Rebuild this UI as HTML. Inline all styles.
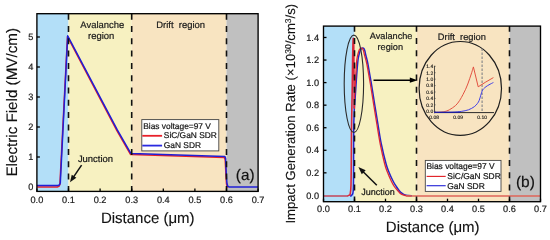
<!DOCTYPE html>
<html><head><meta charset="utf-8"><style>
html,body{margin:0;padding:0;background:#fff;}
svg{display:block;filter:blur(0.3px);font-family:"Liberation Sans", sans-serif;text-rendering:geometricPrecision;}
text.b{stroke:#1a1a1a;stroke-width:0.2px;paint-order:stroke;}
text.m{stroke:#111;stroke-width:0.12px;paint-order:stroke;}
</style></head><body>
<svg width="550" height="240" viewBox="0 0 550 240">
<rect x="36.9" y="13.7" width="31.6" height="177.70000000000002" fill="#B3DFF8"/>
<rect x="68.5" y="13.7" width="63.19999999999999" height="177.70000000000002" fill="#F7F1C1"/>
<rect x="131.7" y="13.7" width="94.80000000000001" height="177.70000000000002" fill="#F8E4C1"/>
<rect x="226.5" y="13.7" width="31.599999999999966" height="177.70000000000002" fill="#C0C0C0"/>
<path d="M36.9,187 L57.3,187 L58.9,186.4 L59.9,184.5 L67.5,36.6 L116.9,130.6 L130.5,154.4 L131.8,154.6 L224.4,157.6 L225.2,159.6 L225.5,166 L226,176 L226.5,184 L227.3,186.8 L228.3,187.2" fill="none" stroke="#E8202A" stroke-width="1.5" stroke-linejoin="round"/>
<path d="M36.9,185.5 L57.8,185.5 L59.4,184.9 L60.3,183 L67.7,35.8 L117.3,129.9 L130.8,153.3 L132,153.4 L224.8,156.4 L225.6,158.4 L225.9,165 L226.4,176 L226.9,183 L227.7,186.2 L229,186.9 L258.1,186.9" fill="none" stroke="#1F1FD6" stroke-width="1.5" stroke-linejoin="round"/>
<line x1="68.5" y1="13.7" x2="68.5" y2="191.4" stroke="#111" stroke-width="1.6" stroke-dasharray="6 6.3" stroke-dashoffset="0"/>
<line x1="131.7" y1="13.7" x2="131.7" y2="191.4" stroke="#111" stroke-width="1.6" stroke-dasharray="6 6.3" stroke-dashoffset="0"/>
<line x1="226.5" y1="13.7" x2="226.5" y2="191.4" stroke="#111" stroke-width="1.6" stroke-dasharray="6 6.3" stroke-dashoffset="0"/>
<text x="102.3" y="28" font-size="9.45" text-anchor="middle" fill="#1a1a1a" class="b">Avalanche</text>
<text x="101.2" y="39" font-size="9.45" text-anchor="middle" fill="#1a1a1a" class="b">region</text>
<text x="180.6" y="28.2" font-size="9.45" text-anchor="middle" fill="#1a1a1a" class="b" xml:space="preserve">Drift  region</text>
<text class="b" x="77.9" y="162.0" font-size="9.45" fill="#111">Junction</text>
<line x1="81.6" y1="165.2" x2="73.25" y2="177.44" stroke="#111" stroke-width="1.5"/><polygon points="70,182.2 71.75,174.67 76.37,177.83" fill="#111"/>
<text x="235.8" y="179.7" font-size="15.3" fill="#111" class="b">(a)</text>
<rect x="141.8" y="119.6" width="77" height="31.3" fill="#fff" stroke="#444" stroke-width="0.9"/>
<text x="143.2" y="128.7" font-size="8.4" fill="#111" class="b">Bias voltage=97 V</text>
<line x1="142.3" y1="135.8" x2="162.1" y2="135.8" stroke="#E8202A" stroke-width="1.8"/>
<text x="163.8" y="138.1" font-size="8.4" fill="#111" class="b">SiC/GaN SDR</text>
<line x1="142.3" y1="145.6" x2="162.1" y2="145.6" stroke="#2A2AE0" stroke-width="1.8"/>
<text x="163.8" y="147.9" font-size="8.4" fill="#111" class="b">GaN SDR</text>
<rect x="36.9" y="13.7" width="221.20000000000002" height="177.70000000000002" fill="none" stroke="#000" stroke-width="1.35"/>
<line x1="36.9" y1="191.4" x2="36.9" y2="188.4" stroke="#000" stroke-width="1.3"/>
<text x="36.9" y="202.7" font-size="9.2" text-anchor="middle" fill="#1a1a1a" class="b">0.0</text>
<line x1="68.5" y1="191.4" x2="68.5" y2="188.4" stroke="#000" stroke-width="1.3"/>
<text x="68.5" y="202.7" font-size="9.2" text-anchor="middle" fill="#1a1a1a" class="b">0.1</text>
<line x1="100.1" y1="191.4" x2="100.1" y2="188.4" stroke="#000" stroke-width="1.3"/>
<text x="100.1" y="202.7" font-size="9.2" text-anchor="middle" fill="#1a1a1a" class="b">0.2</text>
<line x1="131.7" y1="191.4" x2="131.7" y2="188.4" stroke="#000" stroke-width="1.3"/>
<text x="131.7" y="202.7" font-size="9.2" text-anchor="middle" fill="#1a1a1a" class="b">0.3</text>
<line x1="163.3" y1="191.4" x2="163.3" y2="188.4" stroke="#000" stroke-width="1.3"/>
<text x="163.3" y="202.7" font-size="9.2" text-anchor="middle" fill="#1a1a1a" class="b">0.4</text>
<line x1="194.9" y1="191.4" x2="194.9" y2="188.4" stroke="#000" stroke-width="1.3"/>
<text x="194.9" y="202.7" font-size="9.2" text-anchor="middle" fill="#1a1a1a" class="b">0.5</text>
<line x1="226.5" y1="191.4" x2="226.5" y2="188.4" stroke="#000" stroke-width="1.3"/>
<text x="226.5" y="202.7" font-size="9.2" text-anchor="middle" fill="#1a1a1a" class="b">0.6</text>
<line x1="258.1" y1="191.4" x2="258.1" y2="188.4" stroke="#000" stroke-width="1.3"/>
<text x="258.1" y="202.7" font-size="9.2" text-anchor="middle" fill="#1a1a1a" class="b">0.7</text>
<text x="33.3" y="190.2" font-size="9.2" text-anchor="end" fill="#1a1a1a" class="b">0</text>
<line x1="36.9" y1="157" x2="39.9" y2="157" stroke="#000" stroke-width="1.3"/>
<text x="33.3" y="160.2" font-size="9.2" text-anchor="end" fill="#1a1a1a" class="b">1</text>
<line x1="36.9" y1="127" x2="39.9" y2="127" stroke="#000" stroke-width="1.3"/>
<text x="33.3" y="130.2" font-size="9.2" text-anchor="end" fill="#1a1a1a" class="b">2</text>
<line x1="36.9" y1="97" x2="39.9" y2="97" stroke="#000" stroke-width="1.3"/>
<text x="33.3" y="100.2" font-size="9.2" text-anchor="end" fill="#1a1a1a" class="b">3</text>
<line x1="36.9" y1="67" x2="39.9" y2="67" stroke="#000" stroke-width="1.3"/>
<text x="33.3" y="70.2" font-size="9.2" text-anchor="end" fill="#1a1a1a" class="b">4</text>
<line x1="36.9" y1="37" x2="39.9" y2="37" stroke="#000" stroke-width="1.3"/>
<text x="33.3" y="40.2" font-size="9.2" text-anchor="end" fill="#1a1a1a" class="b">5</text>
<text x="147.75" y="223.2" font-size="15.0" text-anchor="middle" fill="#111" class="m">Distance (μm)</text>
<text transform="translate(16.9,102.3) rotate(-90)" x="0" y="0" font-size="15.2" text-anchor="middle" fill="#111" class="m">Electric Field (MV/cm)</text>
<rect x="323.5" y="26.1" width="31.0" height="175.6" fill="#B3DFF8"/>
<rect x="354.5" y="26.1" width="62.0" height="175.6" fill="#F7F1C1"/>
<rect x="416.5" y="26.1" width="93.0" height="175.6" fill="#F8E4C1"/>
<rect x="509.5" y="26.1" width="31.0" height="175.6" fill="#C0C0C0"/>
<path d="M350,196 C350.22,195.93 350.83,196.02 351.3,195.6 C351.77,195.18 352.45,194.77 352.8,193.5 C353.15,192.23 353.27,191.92 353.4,188 C353.53,184.08 353.55,179.67 353.6,170 C353.65,160.33 353.58,140 353.7,130 C353.82,120 354.08,115 354.3,110 C354.52,105 354.77,103.33 355,100 C355.23,96.67 355.42,94.17 355.7,90 C355.98,85.83 356.32,80 356.7,75 C357.08,70 357.58,63.5 358,60 C358.42,56.5 358.82,55.62 359.2,54 C359.58,52.38 359.92,51.22 360.3,50.3 C360.68,49.38 361.08,48.88 361.5,48.5 C361.92,48.12 362.38,47.98 362.8,48 C363.22,48.02 363.65,48.1 364,48.6 C364.35,49.1 364.67,50.18 364.9,51 C365.13,51.82 365.15,52.42 365.4,53.5 C365.65,54.58 365.98,55.75 366.4,57.5 C366.82,59.25 367.07,59.58 367.9,64 C368.73,68.42 370.28,77.33 371.4,84 C372.52,90.67 373.52,97.33 374.6,104 C375.68,110.67 376.78,117.33 377.9,124 C379.02,130.67 379.93,137.33 381.3,144 C382.67,150.67 384.78,159.22 386.1,164 C387.42,168.78 388,169.78 389.2,172.7 C390.4,175.62 392.12,179.2 393.3,181.5 C394.48,183.8 395.37,185.05 396.3,186.5 C397.23,187.95 397.98,189.08 398.9,190.2 C399.82,191.32 400.82,192.42 401.8,193.2 C402.78,193.98 403.68,194.5 404.8,194.9 C405.92,195.3 407.3,195.43 408.5,195.6 C409.7,195.77 411.42,195.85 412,195.9" fill="none" stroke="#2424C8" stroke-width="1.5"/>
<path d="M347.5,195.8 C347.8,195.7 348.83,195.58 349.3,195.2 C349.77,194.82 350.02,195.2 350.3,193.5 C350.58,191.8 350.83,190.58 351,185 C351.17,179.42 351.22,169.17 351.3,160 C351.38,150.83 351.35,141.67 351.5,130 C351.65,118.33 352.02,101.67 352.2,90 C352.38,78.33 352.48,67.5 352.6,60 C352.72,52.5 352.8,48.6 352.9,45 C353,41.4 353.15,39.5 353.2,38.4 L353.7,38.6 L354.3,108.5" fill="none" stroke="#DC2638" stroke-width="1.6" stroke-linejoin="round"/>
<path d="M354.3,108.5 C354.32,107.08 354.3,103.08 354.4,100 C354.5,96.92 354.67,94.17 354.9,90 C355.13,85.83 355.48,80 355.8,75 C356.12,70 356.43,63.5 356.8,60 C357.17,56.5 357.6,55.65 358,54 C358.4,52.35 358.8,51.02 359.2,50.1 C359.6,49.18 360,48.82 360.4,48.5 C360.8,48.18 361.22,48.15 361.6,48.2 C361.98,48.25 362.37,48.33 362.7,48.8 C363.03,49.27 363.35,50.17 363.6,51 C363.85,51.83 363.93,52.72 364.2,53.8 C364.47,54.88 364.76,55.8 365.2,57.5 C365.64,59.2 365.98,59.58 366.85,64 C367.72,68.42 369.27,77.33 370.4,84 C371.52,90.67 372.53,97.33 373.6,104 C374.68,110.67 375.74,117.33 376.85,124 C377.96,130.67 378.94,137.33 380.25,144 C381.56,150.67 383.46,159.22 384.7,164 C385.94,168.78 386.57,169.78 387.7,172.7 C388.83,175.62 390.4,179.2 391.5,181.5 C392.6,183.8 393.32,185.05 394.3,186.5 C395.28,187.95 396.4,189.05 397.4,190.2 C398.4,191.35 399.23,192.58 400.3,193.4 C401.37,194.22 402.6,194.7 403.8,195.1 C405,195.5 406.3,195.65 407.5,195.8 C408.7,195.95 410.42,195.97 411,196" fill="none" stroke="#DC2638" stroke-width="1.3"/>
<path d="M323.5,196.0 L348,196.0" stroke="#C43A4C" stroke-width="1.4" fill="none"/>
<path d="M406,196.0 L540.5,196.0" stroke="#DF6458" stroke-width="1.6" fill="none"/>
<line x1="354.5" y1="26.1" x2="354.5" y2="201.7" stroke="#111" stroke-width="1.6" stroke-dasharray="6 6.2" stroke-dashoffset="0.3"/>
<line x1="416.5" y1="26.1" x2="416.5" y2="201.7" stroke="#111" stroke-width="1.6" stroke-dasharray="6 6.2" stroke-dashoffset="0.3"/>
<line x1="509.5" y1="26.1" x2="509.5" y2="201.7" stroke="#111" stroke-width="1.6" stroke-dasharray="6 6.2" stroke-dashoffset="0.3"/>
<ellipse cx="353.9" cy="83.8" rx="9.7" ry="48.7" fill="none" stroke="#2a2a2a" stroke-width="1.1"/>
<line x1="373.5" y1="80.2" x2="411" y2="80.2" stroke="#000" stroke-width="1.5"/>
<polygon points="417.5,80.2 409.8,77.6 409.8,82.8" fill="#000"/>
<ellipse cx="460.3" cy="88.4" rx="41.2" ry="46.9" fill="#F8E4C1" stroke="#1e1e1e" stroke-width="1.2"/>
<line x1="482.1" y1="48.5" x2="482.1" y2="112.8" stroke="#8a8a8a" stroke-width="1.2" stroke-dasharray="2.6 1.4"/>
<line x1="434.5" y1="65.8" x2="434.5" y2="113.2" stroke="#2a2a2a" stroke-width="0.8"/>
<line x1="434.5" y1="111.3" x2="435.6" y2="111.3" stroke="#2a2a2a" stroke-width="0.6"/>
<line x1="434.5" y1="104.87" x2="435.6" y2="104.87" stroke="#2a2a2a" stroke-width="0.6"/>
<line x1="434.5" y1="98.44" x2="435.6" y2="98.44" stroke="#2a2a2a" stroke-width="0.6"/>
<line x1="434.5" y1="92.01" x2="435.6" y2="92.01" stroke="#2a2a2a" stroke-width="0.6"/>
<line x1="434.5" y1="85.58" x2="435.6" y2="85.58" stroke="#2a2a2a" stroke-width="0.6"/>
<line x1="434.5" y1="79.15" x2="435.6" y2="79.15" stroke="#2a2a2a" stroke-width="0.6"/>
<line x1="434.5" y1="72.72" x2="435.6" y2="72.72" stroke="#2a2a2a" stroke-width="0.6"/>
<line x1="434.5" y1="66.29" x2="435.6" y2="66.29" stroke="#2a2a2a" stroke-width="0.6"/>
<line x1="434" y1="112.6" x2="494.0" y2="112.6" stroke="#2a2a2a" stroke-width="1.0"/>
<text x="433.3" y="113.1" font-size="5.0" text-anchor="end" fill="#111" class="m">0.0</text>
<text x="433.3" y="106.67" font-size="5.0" text-anchor="end" fill="#111" class="m">0.2</text>
<text x="433.3" y="100.24" font-size="5.0" text-anchor="end" fill="#111" class="m">0.4</text>
<text x="433.3" y="93.81" font-size="5.0" text-anchor="end" fill="#111" class="m">0.6</text>
<text x="433.3" y="87.38" font-size="5.0" text-anchor="end" fill="#111" class="m">0.8</text>
<text x="433.3" y="80.95" font-size="5.0" text-anchor="end" fill="#111" class="m">1.0</text>
<text x="433.3" y="74.52" font-size="5.0" text-anchor="end" fill="#111" class="m">1.2</text>
<text x="433.3" y="68.09" font-size="5.0" text-anchor="end" fill="#111" class="m">1.4</text>
<text x="434.1" y="118.8" font-size="5.0" text-anchor="middle" fill="#111" class="m">0.08</text>
<text x="458.1" y="118.8" font-size="5.0" text-anchor="middle" fill="#111" class="m">0.09</text>
<text x="482.1" y="118.8" font-size="5.0" text-anchor="middle" fill="#111" class="m">0.10</text>
<path d="M434.3,112.5 C435.58,112.43 439.97,112.35 442,112.1 C444.03,111.85 445.22,111.42 446.5,111 C447.78,110.58 448.2,110.5 449.7,109.6 C451.2,108.7 453.83,107.13 455.5,105.6 C457.17,104.07 458.45,102.25 459.7,100.4 C460.95,98.55 462.02,96.35 463,94.5 C463.98,92.65 464.8,91.05 465.6,89.3 C466.4,87.55 467.1,85.83 467.8,84 C468.5,82.17 469.13,80.25 469.8,78.3 C470.47,76.35 471.2,74.2 471.8,72.3 C472.4,70.4 473.13,67.8 473.4,66.9 L478.2,86.8 L485.8,82.0 L493.4,77.6" fill="none" stroke="#E04A3A" stroke-width="0.95" stroke-linejoin="round"/>
<path d="M434.3,112.4 C437.25,112.38 447.51,112.47 452,112.3 C456.49,112.13 458.5,111.82 461.25,111.4 C464,110.98 466.32,110.58 468.5,109.8 C470.68,109.02 472.82,107.75 474.3,106.7 C475.78,105.65 476.58,104.55 477.4,103.5 C478.22,102.45 478.63,101.78 479.2,100.4 C479.77,99.02 480.3,96.8 480.8,95.2 C481.3,93.6 481.73,91.87 482.2,90.8 C482.67,89.73 482.97,89.48 483.6,88.8 C484.23,88.12 485.1,87.37 486,86.7 C486.9,86.03 487.77,85.5 489,84.8 C490.23,84.1 492.67,82.88 493.4,82.5" fill="none" stroke="#3838E8" stroke-width="0.95"/>
<line x1="434.3" y1="112.3" x2="460" y2="112.3" stroke="#1a1a9a" stroke-width="1.2"/>
<text x="391.1" y="39.4" font-size="9.2" text-anchor="middle" fill="#1a1a1a" class="b">Avalanche</text>
<text x="390.3" y="50" font-size="9.2" text-anchor="middle" fill="#1a1a1a" class="b">region</text>
<text x="461.9" y="39.7" font-size="9.3" text-anchor="middle" fill="#1a1a1a" class="b" xml:space="preserve">Drift  region</text>
<text class="b" x="361.2" y="194.8" font-size="9.0" fill="#111">Junction</text>
<line x1="376.8" y1="185.2" x2="362.67" y2="171.22" stroke="#111" stroke-width="1.5"/><polygon points="358.4,167 365.7,170.28 361.76,174.26" fill="#111"/>
<text x="515.9" y="187.4" font-size="15.5" fill="#111" class="b">(b)</text>
<rect x="425.3" y="160.4" width="75.7" height="31" fill="#fff" stroke="#444" stroke-width="0.9"/>
<text x="426.4" y="169.4" font-size="8.45" fill="#111" class="b">Bias voltage=97 V</text>
<line x1="426.6" y1="176.4" x2="445.7" y2="176.4" stroke="#E2262C" stroke-width="1.15"/>
<text x="447.3" y="179.1" font-size="8.45" fill="#111" class="b">SiC/GaN SDR</text>
<line x1="426.6" y1="185.7" x2="445.7" y2="185.7" stroke="#2B2BD8" stroke-width="1.15"/>
<text x="447.3" y="189.0" font-size="8.45" fill="#111" class="b">GaN SDR</text>
<rect x="323.5" y="26.1" width="217.0" height="175.6" fill="none" stroke="#000" stroke-width="1.35"/>
<line x1="323.5" y1="201.7" x2="323.5" y2="198.7" stroke="#000" stroke-width="1.3"/>
<text x="323.5" y="212.4" font-size="9.2" text-anchor="middle" fill="#1a1a1a" class="b">0.0</text>
<line x1="354.5" y1="201.7" x2="354.5" y2="198.7" stroke="#000" stroke-width="1.3"/>
<text x="354.5" y="212.4" font-size="9.2" text-anchor="middle" fill="#1a1a1a" class="b">0.1</text>
<line x1="385.5" y1="201.7" x2="385.5" y2="198.7" stroke="#000" stroke-width="1.3"/>
<text x="385.5" y="212.4" font-size="9.2" text-anchor="middle" fill="#1a1a1a" class="b">0.2</text>
<line x1="416.5" y1="201.7" x2="416.5" y2="198.7" stroke="#000" stroke-width="1.3"/>
<text x="416.5" y="212.4" font-size="9.2" text-anchor="middle" fill="#1a1a1a" class="b">0.3</text>
<line x1="447.5" y1="201.7" x2="447.5" y2="198.7" stroke="#000" stroke-width="1.3"/>
<text x="447.5" y="212.4" font-size="9.2" text-anchor="middle" fill="#1a1a1a" class="b">0.4</text>
<line x1="478.5" y1="201.7" x2="478.5" y2="198.7" stroke="#000" stroke-width="1.3"/>
<text x="478.5" y="212.4" font-size="9.2" text-anchor="middle" fill="#1a1a1a" class="b">0.5</text>
<line x1="509.5" y1="201.7" x2="509.5" y2="198.7" stroke="#000" stroke-width="1.3"/>
<text x="509.5" y="212.4" font-size="9.2" text-anchor="middle" fill="#1a1a1a" class="b">0.6</text>
<line x1="540.5" y1="201.7" x2="540.5" y2="198.7" stroke="#000" stroke-width="1.3"/>
<text x="540.5" y="212.4" font-size="9.2" text-anchor="middle" fill="#1a1a1a" class="b">0.7</text>
<text x="319" y="198.6" font-size="9.2" text-anchor="end" fill="#1a1a1a" class="b">0.0</text>
<line x1="323.5" y1="172.84" x2="326.5" y2="172.84" stroke="#000" stroke-width="1.3"/>
<text x="319" y="176.04" font-size="9.2" text-anchor="end" fill="#1a1a1a" class="b">0.2</text>
<line x1="323.5" y1="150.28" x2="326.5" y2="150.28" stroke="#000" stroke-width="1.3"/>
<text x="319" y="153.48" font-size="9.2" text-anchor="end" fill="#1a1a1a" class="b">0.4</text>
<line x1="323.5" y1="127.72" x2="326.5" y2="127.72" stroke="#000" stroke-width="1.3"/>
<text x="319" y="130.92" font-size="9.2" text-anchor="end" fill="#1a1a1a" class="b">0.6</text>
<line x1="323.5" y1="105.16" x2="326.5" y2="105.16" stroke="#000" stroke-width="1.3"/>
<text x="319" y="108.36" font-size="9.2" text-anchor="end" fill="#1a1a1a" class="b">0.8</text>
<line x1="323.5" y1="82.6" x2="326.5" y2="82.6" stroke="#000" stroke-width="1.3"/>
<text x="319" y="85.8" font-size="9.2" text-anchor="end" fill="#1a1a1a" class="b">1.0</text>
<line x1="323.5" y1="60.04" x2="326.5" y2="60.04" stroke="#000" stroke-width="1.3"/>
<text x="319" y="63.24" font-size="9.2" text-anchor="end" fill="#1a1a1a" class="b">1.2</text>
<line x1="323.5" y1="37.48" x2="326.5" y2="37.48" stroke="#000" stroke-width="1.3"/>
<text x="319" y="40.68" font-size="9.2" text-anchor="end" fill="#1a1a1a" class="b">1.4</text>
<text x="432.7" y="232.3" font-size="15.0" text-anchor="middle" fill="#111" class="m">Distance (μm)</text>
<text transform="translate(295.3,113.7) rotate(-90)" x="0" y="0" font-size="13.15" text-anchor="middle" fill="#111" class="m">Impact Generation Rate (×10<tspan dy="-4.5" font-size="8.5">30</tspan><tspan dy="4.5">/cm</tspan><tspan dy="-4.5" font-size="8.5">3</tspan><tspan dy="4.5">/s)</tspan></text>
</svg>
</body></html>
